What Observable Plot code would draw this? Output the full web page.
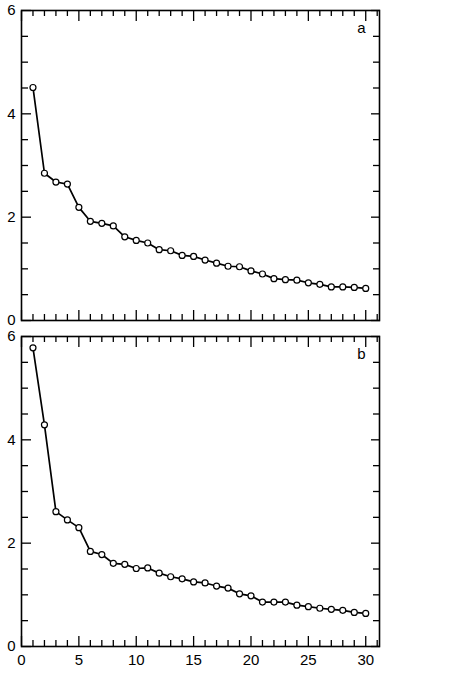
<!DOCTYPE html>
<html>
<head>
<meta charset="utf-8">
<script src="https://cdn.jsdelivr.net/npm/d3@7"></script>
<script src="https://cdn.jsdelivr.net/npm/@observablehq/plot@0.6"></script>
<style>
  html, body { margin: 0; padding: 0; background: white; }
  #chart svg { display: block; overflow: visible; }
</style>
</head>
<body>
<div id="chart"></div>
<script>
const rank = [1,2,3,4,5,6,7,8,9,10,11,12,13,14,15,16,17,18,19,20,21,22,23,24,25,26,27,28,29,30];
const seriesA = [4.51,2.85,2.68,2.64,2.19,1.92,1.88,1.83,1.62,1.55,1.50,1.37,1.35,1.26,1.24,1.17,1.11,1.05,1.04,0.96,0.90,0.81,0.79,0.78,0.73,0.70,0.65,0.65,0.64,0.62];
const seriesB = [5.78,4.29,2.61,2.45,2.30,1.84,1.78,1.61,1.59,1.51,1.52,1.42,1.35,1.31,1.25,1.23,1.17,1.13,1.02,0.98,0.86,0.86,0.86,0.80,0.77,0.74,0.72,0.70,0.66,0.64];
const panelLabels = ["a", "b"];
const yMajor = [0,2,4,6];
const yMinor = [0.5,1,1.5,2.5,3,3.5,4.5,5,5.5];
const xMajor = [0,5,10,15,20,25,30];
const xMinor = [1,2,3,4,6,7,8,9,11,12,13,14,16,17,18,19,21,22,23,24,26,27,28,29,31];

function panel(values, label, showX, height, marginBottom) {
  const data = rank.map((r, i) => ({x: r, y: values[i]}));
  const blank = () => "";
  const fmt = d3.format("d");
  return Plot.plot({
    width: 474,
    height,
    marginLeft: 21,
    marginRight: 95,
    marginTop: 10,
    marginBottom,
    style: {fontFamily: "'Liberation Sans', Arial, sans-serif", fontSize: "14px", background: "white", color: "black", overflow: "visible"},
    x: {domain: [0, 31.2]},
    y: {domain: [0, 6]},
    marks: [
      Plot.axisY(yMajor, {anchor: "left", tickSize: -10, tickFormat: blank, label: null, strokeWidth: 1.3}),
      Plot.axisY(yMinor, {anchor: "left", tickSize: -7, tickFormat: blank, label: null, strokeWidth: 1.3}),
      Plot.axisY(yMajor, {anchor: "right", tickSize: -9, tickFormat: blank, label: null, strokeWidth: 1.3}),
      Plot.axisY(yMinor, {anchor: "right", tickSize: -7, tickFormat: blank, label: null, strokeWidth: 1.3}),
      Plot.axisY(yMajor, {anchor: "left", tickSize: 0, tickPadding: 6, tickFormat: fmt, label: null, fontSize: 15}),
      Plot.axisX(xMajor, {anchor: "top", tickSize: -10, tickFormat: blank, label: null, strokeWidth: 1.3}),
      Plot.axisX(xMinor, {anchor: "top", tickSize: -5, tickFormat: blank, label: null, strokeWidth: 1.3}),
      Plot.axisX(xMajor, {anchor: "bottom", tickSize: -10, tickFormat: blank, label: null, strokeWidth: 1.3}),
      Plot.axisX(xMinor, {anchor: "bottom", tickSize: -6, tickFormat: blank, label: null, strokeWidth: 1.3}),
      showX ? Plot.axisX(xMajor, {anchor: "bottom", tickSize: 0, tickPadding: 8, tickFormat: fmt, label: null, fontSize: 15}) : null,
      Plot.frame({stroke: "black", strokeWidth: 1.6}),
      Plot.line(data, {x: "x", y: "y", stroke: "black", strokeWidth: 1.7}),
      Plot.dot(data, {x: "x", y: "y", r: 3, fill: "white", stroke: "black", strokeWidth: 1.2}),
      Plot.text([label], {frameAnchor: "top-right", text: d => d, dx: -14, dy: 12, fontSize: 15})
    ]
  });
}

const el = document.getElementById("chart");
el.appendChild(panel(seriesA, panelLabels[0], false, 326, 6));
el.appendChild(panel(seriesB, panelLabels[1], true, 351, 31));
</script>
</body>
</html>
